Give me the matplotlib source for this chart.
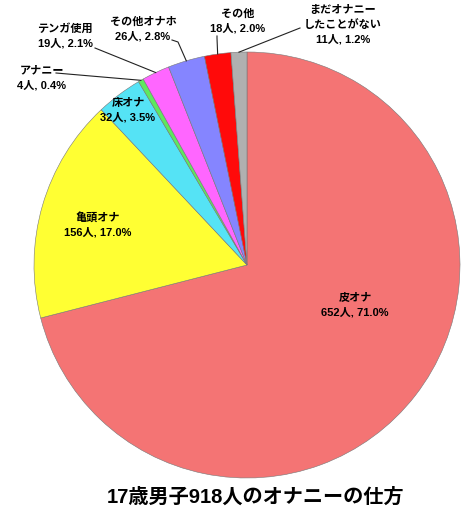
import matplotlib.pyplot as plt
import numpy as np

plt.rcParams['font.family'] = ['Liberation Sans', 'Noto Sans CJK JP', 'DejaVu Sans']

# data (clockwise from 12 o'clock)
names = ['皮オナ', '亀頭オナ', '床オナ', 'アナニー', 'テンガ使用', 'その他オナホ', 'その他', 'まだオナニー\nしたことがない']
counts = [652, 156, 32, 4, 19, 26, 18, 11]
pcts = [71.0, 17.0, 3.5, 0.4, 2.1, 2.8, 2.0, 1.2]
colors = ['#F47474', '#FFFF33', '#55E3F5', '#5EE85E', '#FF66FF', '#8585FF', '#FF0A0A', '#B0B0B0']
title = '17歳男子918人のオナニーの仕方'

W, H = 474, 511
fig = plt.figure(figsize=(W / 100, H / 100), dpi=100)
ax = fig.add_axes([0, 0, 1, 1])

cx, cy, r = 247, H - 265, 213
wedges, _ = ax.pie(pcts, colors=colors, startangle=90, counterclock=False,
                   center=(cx, cy), radius=r, frame=True,
                   wedgeprops=dict(edgecolor='#777777', linewidth=0.4))
ax.set_xlim(0, W)
ax.set_ylim(0, H)
ax.axis('off')

labels = ['%s\n%d人, %.1f%%' % (n, c, p) for n, c, p in zip(names, counts, pcts)]

# label positions in image pixels (x, y from top)
inside = {0: (355, 305), 1: (98, 225), 2: (128, 110)}
outside = {3: (42, 78), 4: (65, 36), 5: (143, 29), 6: (238, 21), 7: (343, 25)}
line_from = {3: (56, 73), 4: (95, 48), 5: (172, 40), 6: (217, 36), 7: (300, 28)}

for i, w in enumerate(wedges):
    if i in inside:
        x, y = inside[i]
        ax.text(x, H - y, labels[i], ha='center', va='center', fontsize=8,
                fontweight='bold', linespacing=1.45)
    else:
        x, y = outside[i]
        ax.text(x, H - y, labels[i], ha='center', va='center', fontsize=8,
                fontweight='bold', linespacing=1.45)
        ang = np.deg2rad((w.theta1 + w.theta2) / 2)
        px, py = cx + r * np.cos(ang), cy + r * np.sin(ang)
        lx, ly = line_from[i]
        if i == 5:
            ax.plot([lx, 178, px], [H - ly, H - 42, py], color='#222222', lw=0.8)
        elif i == 6:
            ax.plot([lx, lx, px], [H - ly, H - 38, py], color='#222222', lw=0.8)
        else:
            ax.plot([lx, px], [H - ly, py], color='#222222', lw=0.8)

ax.text(256, H - 497, title, ha='center', va='center', fontsize=14.5, fontweight='bold')

fig.savefig('out.png', dpi=100)
